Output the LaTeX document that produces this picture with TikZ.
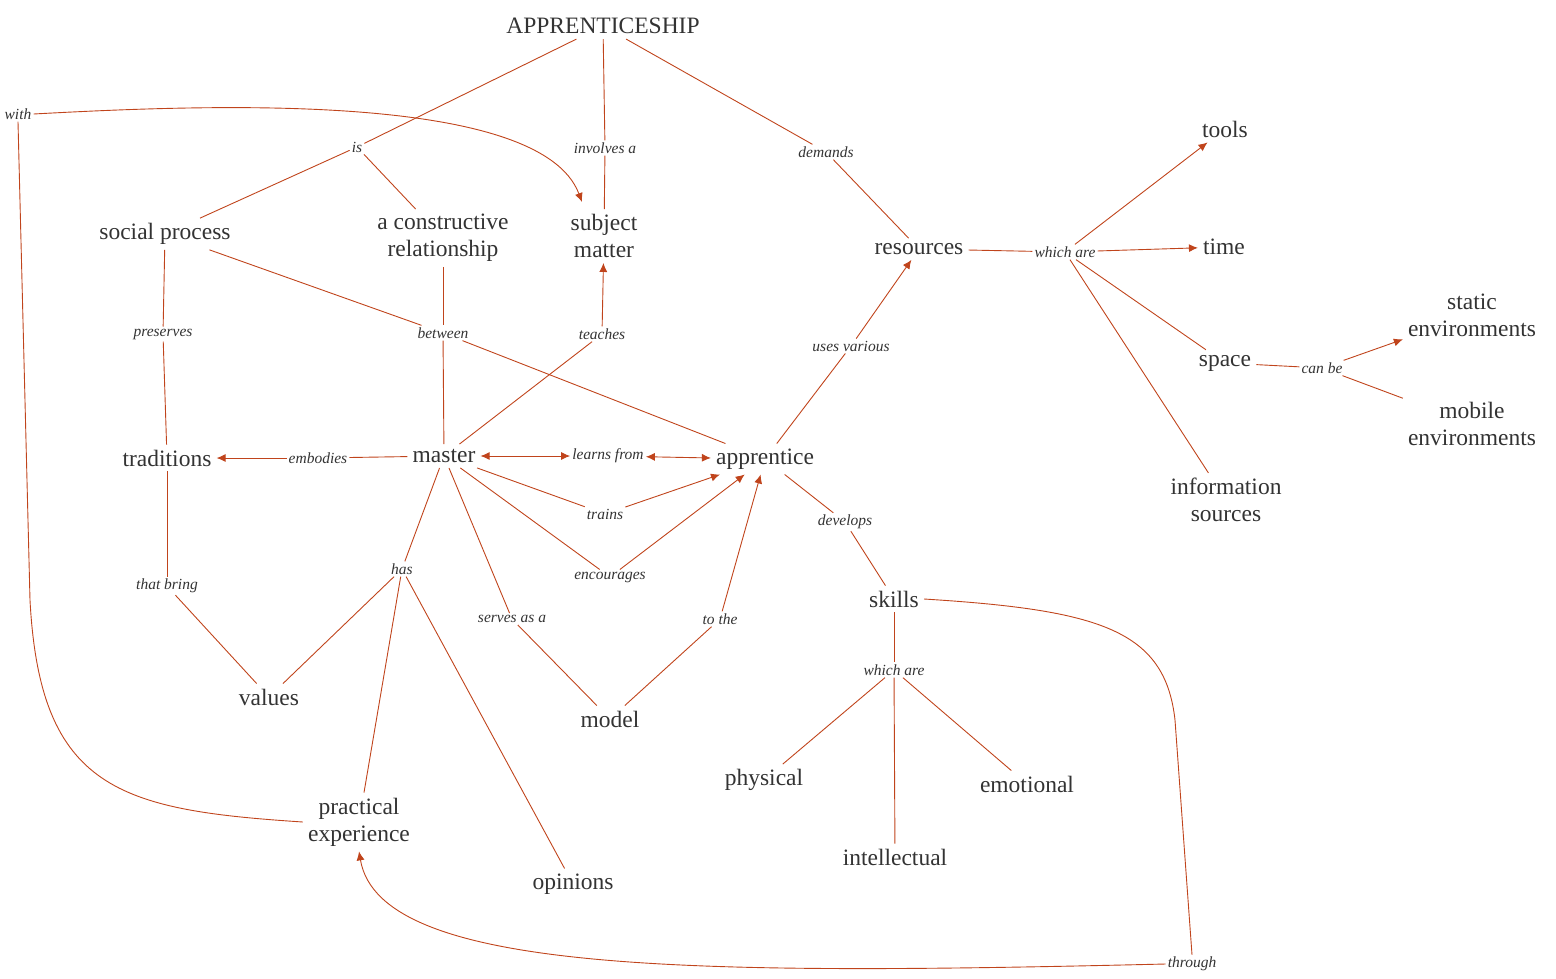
\documentclass[tikz,border=0pt]{standalone}
\usepackage{fontspec}
\setmainfont{Liberation Serif}
\usetikzlibrary{arrows.meta}
\definecolor{ln}{HTML}{C0441C}
\definecolor{tx}{HTML}{333333}
\begin{document}
\begin{tikzpicture}[x=1pt,y=-1pt,
  c/.style={text=tx,font=\fontsize{23.5}{27}\selectfont,align=center,inner sep=5pt},
  l/.style={text=tx,font=\fontsize{15.5}{17}\itshape,inner sep=2pt},
  e/.style={draw=ln,line width=0.9pt},
  a/.style={e,-{Latex[length=9pt,width=8pt]}},
  b/.style={e,{Latex[length=9pt,width=8pt]}-{Latex[length=9pt,width=8pt]}}]
\useasboundingbox (0,0) rectangle (1556,978);
% concepts
\node[c] (ap) at (603,26) {APPRENTICESHIP};
\node[c] (sp) at (165,234) {social process};
\node[c] (cr) at (443,238) {a constructive\\relationship};
\node[c] (sm) at (604,236) {subject\\matter};
\node[c] (re) at (919,249) {resources};
\node[c] (to) at (1225,129) {tools};
\node[c] (ti) at (1224,247) {time};
\node[c] (spc) at (1225,363) {space};
\node[c] (st) at (1472,315) {static\\environments};
\node[c] (mo) at (1472,424) {mobile\\environments};
\node[c] (is2) at (1226,500) {information\\sources};
\node[c] (tr) at (167,458) {traditions};
\node[c] (ma) at (444,456) {master};
\node[c] (ae) at (765,459) {apprentice};
\node[c] (sk) at (894,599) {skills};
\node[c] (va) at (269,697) {values};
\node[c] (mod) at (610,719) {model};
\node[c] (ph) at (764,780) {physical};
\node[c] (em) at (1027,784) {emotional};
\node[c] (in) at (895,857) {intellectual};
\node[c] (pe) at (359,822) {practical\\experience};
\node[c] (op) at (573,884) {opinions};
% labels
\node[l] (lwith) at (18,114) {with};
\node[l] (lis) at (357,147) {is};
\node[l] (linv) at (605,148) {involves a};
\node[l] (ldem) at (826,152) {demands};
\node[l] (lwa1) at (1065,252) {which are};
\node[l] (lpre) at (163,334) {preserves};
\node[l] (lbet) at (443,333) {between};
\node[l] (ltea) at (602,334) {teaches};
\node[l] (luse) at (851,346) {uses various};
\node[l] (lcan) at (1322,368) {can be};
\node[l] (lemb) at (318,458) {embodies};
\node[l] (llea) at (608,456) {learns from};
\node[l] (ltra) at (605,514) {trains};
\node[l] (ldev) at (845,522) {develops};
\node[l] (lenc) at (610,577) {encourages};
\node[l] (lhas) at (402,569) {has};
\node[l] (lthb) at (167,586) {that bring};
\node[l] (lser) at (512,619) {serves as a};
\node[l] (ltot) at (720,619) {to the};
\node[l] (lwa2) at (894,670) {which are};
\node[l] (lthr) at (1192,964) {through};
% edges
\draw[e] (ap) -- (lis);
\draw[e] (lis) -- (sp);
\draw[e] (lis) -- (cr);
\draw[e] (ap) -- (linv);
\draw[e] (linv) -- (sm);
\draw[e] (ap) -- (ldem);
\draw[e] (ldem) -- (re);
\draw[e] (pe.west) .. controls (120,810) and (40,790) .. (30,600) -- (lwith.south);
\draw[a] (lwith.east) .. controls (200,105) and (540,90) .. (582,202);
\draw[e] (sp) -- (lpre);
\draw[e] (lpre) -- (tr);
\draw[e] (sp) -- (lbet);
\draw[e] (cr) -- (lbet);
\draw[e] (lbet) -- (ma);
\draw[e] (lbet) -- (ae);
\draw[e] (ma) -- (ltea);
\draw[a] (ltea) -- (sm);
\draw[e] (ae) -- (luse);
\draw[a] (luse) -- (re);
\draw[e] (re) -- (lwa1);
\draw[a] (lwa1) -- (to);
\draw[a] (lwa1) -- (ti);
\draw[e] (lwa1) -- (spc);
\draw[e] (lwa1) -- (is2);
\draw[e] (spc) -- (lcan);
\draw[a] (lcan) -- (st);
\draw[e] (lcan) -- (mo);
\draw[e] (ma) -- (lemb);
\draw[a] (lemb) -- (tr);
\draw[b] (ma) -- (llea);
\draw[b] (llea) -- (ae);
\draw[e] (ma) -- (ltra);
\draw[a] (ltra) -- (ae);
\draw[e] (ma) -- (lenc);
\draw[a] (lenc) -- (ae);
\draw[e] (ma) -- (lhas);
\draw[e] (lhas) -- (va);
\draw[e] (lhas) -- (pe);
\draw[e] (lhas) -- (op);
\draw[e] (tr) -- (lthb);
\draw[e] (lthb) -- (va);
\draw[e] (ma) -- (lser);
\draw[e] (lser) -- (mod);
\draw[e] (mod) -- (ltot);
\draw[a] (ltot) -- (ae);
\draw[e] (ae) -- (ldev);
\draw[e] (ldev) -- (sk);
\draw[e] (sk) -- (lwa2);
\draw[e] (lwa2) -- (ph);
\draw[e] (lwa2) -- (in);
\draw[e] (lwa2) -- (em);
\draw[e] (sk.east) .. controls (1100,610) and (1165,630) .. (1175,720) -- (lthr.north);
\draw[a] (lthr.west) .. controls (700,975) and (380,975) .. (pe.south);
\end{tikzpicture}
\end{document}
